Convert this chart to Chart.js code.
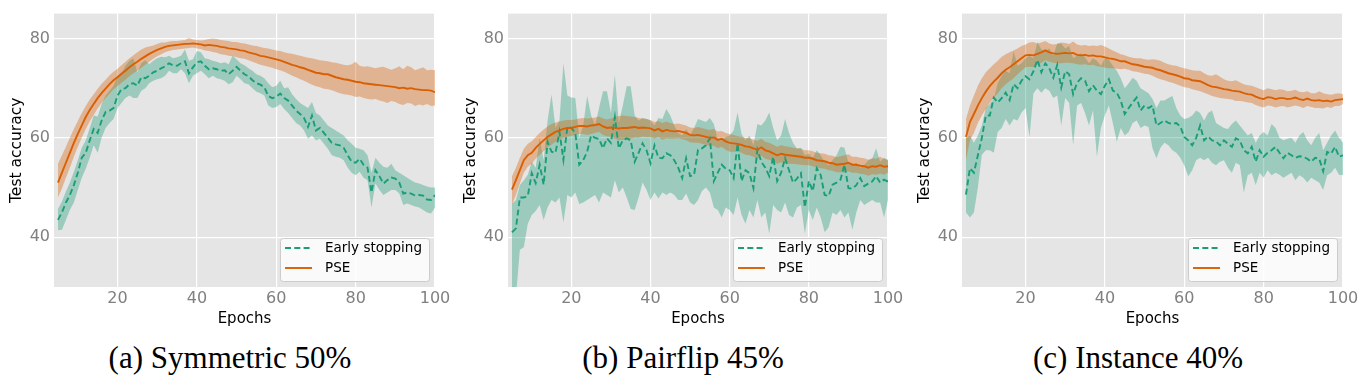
<!DOCTYPE html>
<html><head><meta charset="utf-8">
<script src="https://cdn.jsdelivr.net/npm/chart.js@4.4.0/dist/chart.umd.min.js"></script>
<style>
body{margin:0;background:#fff;width:1370px;height:378px;overflow:hidden;position:relative;}
canvas{position:absolute;top:0;}
.cap{position:absolute;top:338px;font-family:"Liberation Serif","Times New Roman",serif;font-size:31px;color:#000;transform:translateX(-50%);white-space:nowrap;line-height:40px;}
</style></head><body>
<canvas id="c1" width="460" height="330" style="left:0px"></canvas>
<canvas id="c2" width="460" height="330" style="left:454px"></canvas>
<canvas id="c3" width="460" height="330" style="left:908px"></canvas>
<div class="cap" style="left:230px">(a) Symmetric 50%</div>
<div class="cap" style="left:683px">(b) Pairflip 45%</div>
<div class="cap" style="left:1138px">(c) Instance 40%</div>
<script>
const epochs = [5,6,7,8,9,10,11,12,13,14,15,16,17,18,19,20,21,22,23,24,25,26,27,28,29,30,31,32,33,34,35,36,37,38,39,40,41,42,43,44,45,46,47,48,49,50,51,52,53,54,55,56,57,58,59,60,61,62,63,64,65,66,67,68,69,70,71,72,73,74,75,76,77,78,79,80,81,82,83,84,85,86,87,88,89,90,91,92,93,94,95,96,97,98,99,100];
const xTicks = [20,40,60,80,100];
const yTicks = [40,60,80];
const seriesNames = ["Early stopping","PSE"];
const captions = ["(a) Symmetric 50%","(b) Pairflip 45%","(c) Instance 40%"];

// ---- (a) Symmetric 50% ----
const symPseMean = [51.0,53.0,55.0,57.0,59.0,60.8,62.5,64.2,65.6,66.8,
68.0,69.0,69.9,70.8,71.6,72.2,72.9,73.5,74.2,74.8,
75.3,75.9,76.4,76.9,77.3,77.7,78.0,78.3,78.5,78.6,
78.7,78.8,78.9,78.9,79.0,78.9,78.8,78.6,78.7,78.6,
78.5,78.3,78.2,78.0,77.9,77.8,77.6,77.5,77.2,77.0,
76.8,76.5,76.4,76.2,76.0,75.8,75.6,75.3,75.0,74.7,
74.5,74.2,74.0,73.7,73.4,73.1,73.0,72.8,72.8,72.5,
72.2,72.0,71.8,71.7,71.5,71.3,71.2,71.0,70.9,70.8,
70.7,70.6,70.5,70.4,70.3,70.2,70.0,70.1,69.9,70.0,
69.8,69.7,69.6,69.6,69.5,69.2];
const symPseUpper = [54.8,56.5,58.2,60.0,61.8,63.4,65.0,66.4,67.7,68.8,
69.9,70.9,71.7,72.6,73.3,73.9,74.6,75.3,76.0,76.6,
77.2,77.8,78.2,78.4,78.6,78.9,79.2,79.2,79.4,79.5,
79.5,79.6,79.7,80.1,79.8,79.7,79.6,79.7,79.9,80.0,
79.9,79.7,79.6,79.5,79.3,79.3,79.1,79.0,78.8,78.6,
78.5,78.3,78.1,78.0,77.8,77.6,77.5,77.2,77.0,76.9,
76.7,76.5,76.3,76.1,76.0,75.8,75.6,75.5,75.4,75.2,
75.1,74.9,74.7,74.6,74.8,75.3,74.5,74.3,74.4,74.2,
74.0,74.2,74.3,74.0,73.7,74.0,74.4,73.8,74.5,74.2,
73.6,73.9,74.2,73.6,73.7,73.6];
const symPseLower = [48.0,49.8,52.0,54.0,56.2,58.2,60.0,61.8,63.3,64.6,
65.9,67.0,68.0,68.9,69.8,70.4,71.1,71.7,72.4,73.0,
73.5,74.1,74.7,75.3,75.9,76.4,76.8,77.2,77.5,77.7,
77.8,77.9,78.0,78.1,78.2,78.0,77.9,77.6,77.5,77.3,
77.1,76.8,76.7,76.5,76.4,76.2,76.0,75.9,75.6,75.3,
75.0,74.7,74.5,74.3,74.1,73.8,73.6,73.3,72.9,72.5,
72.2,71.8,71.5,71.1,70.7,70.4,70.2,69.9,69.8,69.6,
69.3,69.0,68.8,68.7,68.5,68.2,68.3,68.0,67.8,67.7,
67.8,67.5,67.3,67.0,67.4,67.2,66.8,66.6,67.0,66.9,
66.4,66.7,66.5,66.8,66.4,66.5];
const symEsMean = [43.5,45.0,47.0,48.5,50.5,53.0,56.0,57.0,59.5,61.8,
61.0,63.5,65.2,65.5,66.0,68.5,69.8,70.0,70.8,71.0,
70.5,72.2,72.0,72.5,73.2,73.5,74.0,74.4,75.0,74.6,
74.5,75.0,75.4,73.0,74.2,75.2,75.4,74.5,73.8,74.0,
73.8,73.5,73.6,72.8,73.5,74.3,73.5,72.8,72.4,71.6,
71.0,70.7,70.2,68.4,68.0,68.3,68.9,68.0,67.5,66.5,
65.5,64.8,64.0,62.2,64.5,61.5,62.0,61.0,60.0,59.0,
58.7,58.5,58.0,56.5,55.2,55.0,55.8,54.6,54.0,49.0,
53.5,52.3,50.8,51.5,52.0,51.8,51.0,48.8,49.0,48.8,
48.4,48.5,48.4,47.6,47.5,48.5];
const symEsUpper = [45.7,47.2,49.2,51.0,53.2,55.5,58.0,59.5,62.0,64.5,
64.3,66.8,68.5,69.5,70.5,72.5,73.0,74.5,75.5,76.0,
73.2,75.0,75.6,74.8,75.5,76.0,76.3,76.2,76.5,76.0,
76.2,76.5,77.8,75.5,75.8,77.5,77.2,76.0,75.8,75.5,
75.3,75.0,75.2,74.8,76.5,75.8,75.0,74.6,74.0,73.5,
72.8,72.5,72.0,71.0,70.2,70.5,71.5,70.0,70.2,68.8,
67.8,67.0,66.5,66.0,67.2,65.0,64.5,63.5,62.5,62.0,
61.5,61.0,60.5,59.5,58.8,58.0,57.8,57.5,56.5,53.0,
56.0,55.0,54.2,54.0,54.8,53.5,53.0,52.5,52.0,51.5,
51.0,50.8,50.5,50.2,50.0,50.0];
const symEsLower = [41.4,41.5,43.5,45.5,47.0,49.5,52.0,53.8,56.0,58.5,
57.0,60.0,62.0,63.0,63.8,66.0,67.0,68.0,68.5,68.0,
68.0,69.5,70.0,71.0,71.5,71.8,72.0,72.5,73.5,73.0,
73.0,73.8,73.0,71.0,72.5,73.0,73.5,72.8,72.0,72.5,
72.0,71.8,71.5,70.8,71.2,72.5,71.8,71.0,70.8,70.0,
69.3,69.0,68.5,66.5,66.0,66.2,66.8,65.8,65.0,64.0,
63.0,62.5,61.5,59.8,60.5,59.5,59.8,58.8,57.8,56.5,
56.2,56.0,55.5,54.0,53.0,52.5,53.2,52.0,51.5,46.0,
50.8,49.5,48.5,49.0,49.5,49.5,48.8,46.5,46.8,46.5,
46.2,46.0,45.5,45.0,44.8,46.0];

// ---- (b) Pairflip 45% ----
const pairPseMean = [49.6,51.5,53.5,55.5,56.5,57.0,58.0,58.8,59.5,60.2,
60.7,61.2,61.5,61.8,62.0,62.0,62.2,62.4,62.4,62.3,
62.5,62.6,62.8,62.3,62.0,62.1,62.0,61.9,62.0,62.0,
62.1,62.2,62.0,62.1,62.0,61.9,61.5,61.8,61.3,61.6,
61.4,61.3,61.4,61.2,61.0,60.6,60.5,60.6,60.4,60.2,
60.0,60.1,59.6,59.8,59.3,59.0,58.9,58.8,58.6,58.3,
58.2,57.9,57.6,58.1,57.5,57.3,56.9,56.5,56.8,56.6,
56.5,56.4,56.3,56.2,56.0,56.0,55.8,55.5,55.4,55.3,
55.0,54.9,54.6,54.7,54.8,55.0,54.6,54.6,54.4,54.3,
54.0,54.3,54.2,54.5,54.2,54.3];
const pairPseUpper = [52.3,54.0,56.0,57.8,58.8,59.3,60.2,61.0,61.7,62.3,
62.8,63.1,63.3,63.5,63.6,63.6,63.7,63.9,64.0,63.9,
64.0,64.1,64.3,63.9,63.7,63.9,64.2,64.4,64.5,64.4,
64.3,64.2,64.0,63.9,63.8,63.6,63.2,63.4,63.0,63.3,
63.0,62.8,62.9,62.7,62.5,62.1,62.0,62.2,62.0,61.8,
61.6,61.8,61.3,61.4,61.0,60.8,60.6,60.4,60.2,60.0,
59.9,59.6,59.4,59.8,59.2,59.0,58.6,58.2,58.5,58.3,
58.2,58.0,57.9,57.8,57.5,57.5,57.3,57.0,56.9,56.8,
56.5,56.4,56.1,56.3,56.5,56.7,56.2,56.2,56.0,55.9,
55.6,55.9,55.8,56.2,55.8,55.6];
const pairPseLower = [46.5,48.5,50.8,53.0,54.2,54.8,55.8,56.6,57.3,58.1,
58.6,59.2,59.6,60.0,60.3,60.4,60.6,60.8,60.8,60.6,
60.8,61.0,61.2,60.6,60.3,60.3,59.8,59.5,59.6,59.6,
59.8,60.1,60.0,60.3,60.2,60.2,59.8,60.2,59.6,59.9,
59.8,59.8,59.9,59.7,59.5,59.1,59.0,59.0,58.8,58.6,
58.4,58.4,57.9,58.2,57.6,57.2,57.2,57.2,57.0,56.6,
56.5,56.2,55.8,56.4,55.8,55.6,55.2,54.8,55.1,54.9,
54.8,54.8,54.7,54.6,54.5,54.5,54.3,54.0,53.9,53.8,
53.5,53.4,53.1,53.1,53.1,53.3,53.0,53.0,52.8,52.7,
52.4,52.7,52.6,52.8,52.6,53.0];
const pairEsMean = [41.0,41.8,48.0,48.0,48.3,52.9,50.9,54.6,50.6,59.2,
57.2,57.0,61.2,55.6,62.2,62.0,61.0,54.6,55.5,57.2,
60.5,60.0,59.8,57.9,59.9,59.0,64.2,57.9,59.5,59.9,
59.5,55.2,57.0,58.9,57.5,54.9,58.5,56.0,55.9,56.9,
56.5,55.5,54.0,51.9,55.9,52.3,52.5,57.6,57.9,58.5,
59.9,51.3,53.0,54.6,53.8,53.5,51.9,58.9,51.3,53.5,
52.9,49.9,57.6,55.2,54.0,52.3,56.2,51.3,53.0,55.9,
53.5,51.0,51.8,52.9,46.0,51.3,49.3,53.9,52.5,48.5,
48.3,50.6,51.0,51.6,54.6,49.9,49.8,50.5,51.9,50.3,
50.8,51.2,52.3,51.0,51.6,51.2];
const pairEsUpper = [46.7,47.5,50.5,51.5,52.6,55.2,54.0,60.0,55.5,63.5,
68.8,62.0,63.5,75.0,68.5,68.1,68.0,60.0,62.5,68.4,
64.5,62.5,66.0,69.4,69.4,65.0,72.7,63.0,66.5,70.4,
70.4,64.5,63.5,64.0,63.8,63.5,62.5,64.0,63.8,65.8,
64.5,62.5,61.0,60.5,61.8,60.5,62.0,63.8,63.5,63.2,
64.0,62.8,59.5,59.5,60.2,60.5,61.5,65.1,60.8,59.5,
60.5,58.5,62.8,62.5,63.5,65.1,62.0,59.5,60.5,63.8,
61.0,59.0,57.8,58.0,56.5,56.8,56.0,57.5,56.5,55.2,
54.5,55.5,56.5,58.2,58.0,55.0,54.5,55.0,54.0,54.5,
55.5,55.8,57.9,55.2,56.0,55.5];
const pairEsLower = [28.0,28.0,37.5,38.0,42.7,44.5,45.3,46.5,43.5,46.0,
47.5,47.0,48.0,43.0,48.5,48.0,49.0,46.7,47.0,47.5,
48.0,48.5,47.0,49.0,48.5,48.0,51.5,49.0,50.0,48.0,
45.7,45.5,48.0,51.0,49.5,47.5,49.0,47.8,49.0,48.5,
49.0,48.5,47.5,47.5,48.8,47.0,46.5,47.5,49.3,50.0,
49.0,46.0,45.5,44.0,46.0,45.5,44.5,48.0,44.5,42.7,
45.5,44.0,47.5,44.0,45.0,40.7,46.5,45.5,45.0,47.0,
44.5,44.0,46.0,46.5,40.7,45.5,43.5,46.0,44.0,41.0,
42.0,45.0,44.5,45.5,44.0,45.0,41.5,45.0,47.5,46.5,
47.0,47.5,47.0,47.0,44.0,47.5];

// ---- (c) Instance 40% ----
const instPseMean = [60.2,63.2,64.8,66.5,68.0,69.3,70.4,71.3,72.1,73.0,
73.7,74.2,74.8,75.4,76.0,76.6,76.7,76.6,76.9,77.2,
77.6,77.2,77.0,76.9,77.0,77.1,77.0,77.1,76.7,76.6,
76.7,76.5,76.6,76.4,76.4,76.2,76.0,75.9,75.7,75.4,
75.4,75.1,74.8,74.7,74.5,74.3,74.2,74.1,73.8,73.6,
73.3,73.0,72.8,72.6,72.3,72.0,71.9,71.6,71.5,71.4,
71.0,70.6,70.3,70.2,70.0,69.8,69.7,69.5,69.4,69.3,
69.0,68.8,68.7,68.3,68.0,67.8,68.2,68.1,67.8,68.0,
68.0,67.8,67.9,68.1,67.8,67.6,67.9,67.6,67.5,67.6,
67.4,67.5,67.3,67.6,67.7,67.8];
const instPseUpper = [63.8,66.5,68.5,70.5,72.0,73.2,74.0,74.8,75.5,76.3,
76.8,77.2,77.6,78.0,78.5,78.8,79.2,79.3,79.0,79.2,
79.5,79.0,78.8,78.9,79.2,79.1,78.9,79.4,78.8,78.6,
78.7,78.5,78.6,78.5,78.7,78.4,78.0,77.6,77.2,76.8,
76.6,76.3,76.1,76.0,76.0,75.8,75.7,75.8,75.7,75.5,
75.1,74.8,74.6,74.5,74.2,74.0,73.8,73.6,73.5,73.5,
73.0,72.6,72.5,72.8,72.3,71.8,71.5,71.4,71.6,71.2,
70.8,70.6,70.5,70.2,69.9,69.6,70.0,69.8,69.6,69.8,
69.7,69.4,69.5,69.7,69.3,69.2,69.4,69.0,69.0,69.4,
69.0,68.8,68.7,68.9,69.0,68.8];
const instPseLower = [55.5,59.5,61.0,63.0,64.5,65.8,67.0,68.0,69.0,70.0,
70.8,71.4,72.0,72.8,73.5,74.2,74.3,74.2,74.7,75.1,
75.6,75.3,75.1,75.0,75.0,75.1,75.1,75.0,74.8,74.7,
74.8,74.6,74.7,74.4,74.3,74.1,74.0,74.0,73.9,73.8,
73.9,73.7,73.4,73.3,73.1,72.9,72.8,72.5,72.1,71.8,
71.6,71.3,71.1,70.8,70.5,70.2,70.1,69.8,69.6,69.4,
69.1,68.8,68.4,68.2,68.0,67.9,67.8,67.7,67.4,67.4,
67.3,67.1,67.0,66.6,66.3,66.1,66.5,66.4,66.1,66.3,
66.4,66.1,66.3,66.5,66.3,66.0,66.4,66.2,66.0,66.0,
65.9,66.2,66.0,66.4,66.4,66.8];
const instEsMean = [48.6,53.9,53.0,56.5,60.0,64.5,64.5,68.1,67.1,68.0,
69.1,67.6,70.8,70.0,71.5,72.4,71.8,73.4,75.7,73.2,
75.0,74.0,72.1,74.7,70.1,73.4,72.8,68.8,71.1,72.0,
71.5,69.4,70.6,69.5,68.8,70.5,71.8,69.5,69.1,67.5,
64.8,66.0,67.1,68.1,65.5,66.5,66.0,66.5,62.5,63.0,
63.5,63.0,62.8,63.0,62.3,60.2,59.5,58.5,60.0,62.5,
59.5,60.3,59.5,59.3,58.5,59.5,58.8,58.2,59.9,59.5,
57.5,56.9,58.2,55.2,57.5,56.2,57.0,57.5,58.2,57.0,
55.9,57.0,56.5,56.0,56.3,56.2,55.8,55.2,56.0,55.8,
53.3,57.2,56.8,58.2,56.2,56.5];
const instEsUpper = [59.9,60.5,59.0,60.5,62.5,66.0,66.8,67.8,71.0,72.5,
73.5,73.0,77.5,74.5,75.0,76.0,76.5,76.0,79.3,77.8,
77.5,78.0,76.5,79.0,79.0,78.0,78.5,76.0,76.5,77.0,
76.2,75.0,76.0,75.5,74.5,76.0,75.7,74.5,73.5,72.0,
70.0,71.0,72.1,71.5,70.0,69.5,69.0,67.8,66.0,67.5,
67.5,68.0,68.4,66.0,64.5,63.8,64.0,64.5,65.5,65.0,
63.5,65.0,65.5,63.0,62.5,62.0,61.8,62.8,63.5,62.5,
61.5,60.5,61.0,59.0,60.5,61.2,60.5,62.8,62.0,60.0,
59.5,59.8,60.0,59.0,60.5,61.2,59.5,58.5,60.0,61.0,
57.5,59.0,60.5,61.5,60.0,59.0];
const instEsLower = [45.0,44.0,45.0,50.0,56.6,57.5,57.5,57.0,61.2,62.0,
63.8,62.5,63.8,63.5,65.1,66.0,60.2,69.0,70.0,69.1,
70.0,69.5,68.0,68.5,62.5,68.0,67.0,58.5,66.5,67.0,
65.0,62.5,65.5,56.2,62.0,64.5,66.5,63.0,59.2,62.0,
60.5,61.2,63.0,63.5,62.0,62.5,62.2,57.9,55.9,58.0,
59.0,58.5,57.5,57.0,56.0,54.5,52.3,53.5,55.5,56.0,
55.5,56.0,55.0,54.5,55.2,55.5,54.0,53.0,55.0,54.5,
49.0,52.5,53.0,50.5,53.0,52.0,53.5,52.5,53.0,52.6,
52.0,52.5,53.0,51.5,52.5,52.0,51.0,52.0,51.5,51.0,
49.5,52.5,53.0,54.0,52.6,52.5];

const GREEN = '#1b9e77', ORANGE = '#d95f02';
const GREEN_FILL = 'rgba(27,158,119,0.36)', ORANGE_FILL = 'rgba(217,95,2,0.36)';
const FONT = "'DejaVu Sans', sans-serif";
const DASH = [6,3.3];

function pts(vals){ return epochs.map((e,i)=>({x:e, y:vals[i]})); }

const bgPlugin = {
  id:'bgArea',
  beforeDraw(chart){
    const {ctx, chartArea:a} = chart;
    ctx.save(); ctx.fillStyle = '#e5e5e5';
    ctx.fillRect(a.left, a.top, a.right-a.left, a.bottom-a.top);
    ctx.restore();
  }
};

const legendPlugin = {
  id:'innerLegend',
  afterDraw(chart){
    const {ctx, chartArea:a} = chart;
    const w = 149, h = 43;
    const x = a.right - 6 - w, y = a.bottom - 6 - h;
    ctx.save();
    ctx.beginPath();
    ctx.roundRect(x+0.5, y+0.5, w, h, 3);
    ctx.fillStyle = 'rgba(255,255,255,0.8)'; ctx.fill();
    ctx.strokeStyle = '#cccccc'; ctx.lineWidth = 1; ctx.stroke();
    const items = [
      {label: seriesNames[0], color: GREEN, dash: DASH},
      {label: seriesNames[1], color: ORANGE, dash: []}
    ];
    items.forEach((it, i) => {
      const cy = y + 10 + i*20;
      ctx.beginPath();
      ctx.setLineDash(it.dash);
      ctx.strokeStyle = it.color; ctx.lineWidth = 1.9;
      ctx.moveTo(x+5, cy); ctx.lineTo(x+32, cy); ctx.stroke();
      ctx.setLineDash([]);
      ctx.fillStyle = '#000'; ctx.font = "13.5px " + FONT;
      ctx.textBaseline = 'middle'; ctx.textAlign = 'left';
      ctx.fillText(it.label, x+45, cy+0.5);
    });
    ctx.restore();
  }
};

function makeChart(id, padRight, esMean, esUp, esLo, pseMean, pseUp, pseLo){
  return new Chart(document.getElementById(id), {
    type:'line',
    data:{ datasets:[
      {label: seriesNames[1], data: pts(pseMean), borderColor: ORANGE, borderWidth: 1.9, pointRadius: 0, fill: false, tension: 0},
      {label: seriesNames[0], data: pts(esMean), borderColor: GREEN, borderWidth: 1.9, borderDash: DASH, pointRadius: 0, fill: false, tension: 0},
      {label: '', data: pts(pseUp), borderWidth: 0, borderColor: 'rgba(0,0,0,0)', pointRadius: 0, fill: 3, backgroundColor: ORANGE_FILL},
      {label: '', data: pts(pseLo), borderWidth: 0, borderColor: 'rgba(0,0,0,0)', pointRadius: 0, fill: false},
      {label: '', data: pts(esUp), borderWidth: 0, borderColor: 'rgba(0,0,0,0)', pointRadius: 0, fill: 5, backgroundColor: GREEN_FILL},
      {label: '', data: pts(esLo), borderWidth: 0, borderColor: 'rgba(0,0,0,0)', pointRadius: 0, fill: false}
    ]},
    options:{
      responsive:false, animation:false, devicePixelRatio:1,
      layout:{ padding:{ top:10, right:padRight, left:0, bottom:0 } },
      plugins:{ legend:{display:false}, tooltip:{enabled:false} },
      scales:{
        x:{ type:'linear', min:4, max:100,
          afterBuildTicks: s => { s.ticks = xTicks.map(v=>({value:v})); },
          afterFit: s => { s.height = 43; },
          grid:{ color:'#ffffff', lineWidth:1.2, drawTicks:false },
          border:{ display:false },
          ticks:{ color:'#808080', font:{family:FONT, size:16}, padding:2, maxRotation:0 },
          title:{ display:true, text:'Epochs', color:'#000', font:{family:FONT, size:15}, padding:{top:0, bottom:2} }
        },
        y:{ type:'linear', min:30, max:85,
          afterBuildTicks: s => { s.ticks = yTicks.map(v=>({value:v})); },
          afterFit: s => { s.width = 54; },
          grid:{ color:'#ffffff', lineWidth:1.2, drawTicks:false },
          border:{ display:false },
          ticks:{ color:'#808080', font:{family:FONT, size:16}, padding:4 },
          title:{ display:true, text:'Test accuracy', color:'#000', font:{family:FONT, size:15.5}, padding:{top:8, bottom:0} }
        }
      }
    },
    plugins:[bgPlugin, legendPlugin]
  });
}

makeChart('c1', 25, symEsMean, symEsUpper, symEsLower, symPseMean, symPseUpper, symPseLower);
makeChart('c2', 26, pairEsMean, pairEsUpper, pairEsLower, pairPseMean, pairPseUpper, pairPseLower);
makeChart('c3', 25, instEsMean, instEsUpper, instEsLower, instPseMean, instPseUpper, instPseLower);
</script>
</body></html>
